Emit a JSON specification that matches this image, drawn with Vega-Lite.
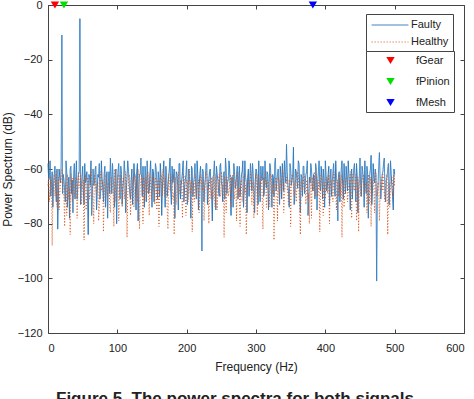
{
  "$schema": "https://vega.github.io/schema/vega-lite/v6.json",
  "width": 416,
  "height": 328,
  "autosize": "none",
  "padding": {"left": 48, "top": 5, "right": 10, "bottom": 66},
  "background": "white",
  "config": {
    "font": "Liberation Sans",
    "view": {"stroke": "#444", "strokeWidth": 1},
    "axis": {"grid": false, "domain": false, "tickColor": "#444", "tickSize": -4, "labelColor": "#222", "labelFontSize": 11, "titleFontSize": 12, "titleFontWeight": "normal", "titleColor": "#222", "labelFont": "Liberation Sans", "titleFont": "Liberation Sans"},
    "legend": {"labelFont": "Liberation Sans", "labelFontSize": 11, "labelColor": "#222"}
  },
  "title": {"text": "Figure 5. The power spectra for both signals", "orient": "bottom", "fontSize": 17, "fontWeight": "bold", "color": "#222", "offset": 19, "dx": -21, "font": "Liberation Sans"},
  "datasets": {
    "spec": [
{"f":0,"Faulty":-58,"Healthy":-66},{"f":1,"Faulty":-64,"Healthy":-63},{"f":2,"Faulty":-63,"Healthy":-72},{"f":3,"Faulty":-57,"Healthy":-68},{"f":4,"Faulty":-70,"Healthy":-63},
{"f":5,"Faulty":-66,"Healthy":-65},{"f":6,"Faulty":-61,"Healthy":-88},{"f":7,"Faulty":-74,"Healthy":-71},{"f":8,"Faulty":-66,"Healthy":-65},{"f":9,"Faulty":-62,"Healthy":-62},
{"f":10,"Faulty":-59,"Healthy":-70},{"f":11,"Faulty":-67,"Healthy":-66},{"f":12,"Faulty":-72,"Healthy":-61},{"f":13,"Faulty":-60,"Healthy":-74},{"f":14,"Faulty":-82,"Healthy":-67},
{"f":15,"Faulty":-70,"Healthy":-63},{"f":16,"Faulty":-60,"Healthy":-75},{"f":17,"Faulty":-63,"Healthy":-69},{"f":18,"Faulty":-65,"Healthy":-64},{"f":19,"Faulty":-58,"Healthy":-65},
{"f":20,"Faulty":-11,"Healthy":-60},{"f":21,"Faulty":-69,"Healthy":-62},{"f":22,"Faulty":-62,"Healthy":-69},{"f":23,"Faulty":-64,"Healthy":-70},{"f":24,"Faulty":-68,"Healthy":-81},
{"f":25,"Faulty":-72,"Healthy":-66},{"f":26,"Faulty":-57,"Healthy":-65},{"f":27,"Faulty":-61,"Healthy":-77},{"f":28,"Faulty":-74,"Healthy":-62},{"f":29,"Faulty":-66,"Healthy":-64},
{"f":30,"Faulty":-63,"Healthy":-71},{"f":31,"Faulty":-78,"Healthy":-67},{"f":32,"Faulty":-60,"Healthy":-84},{"f":33,"Faulty":-59,"Healthy":-62},{"f":34,"Faulty":-69,"Healthy":-66},
{"f":35,"Faulty":-64,"Healthy":-72},{"f":36,"Faulty":-76,"Healthy":-63},{"f":37,"Faulty":-62,"Healthy":-65},{"f":38,"Faulty":-58,"Healthy":-70},{"f":39,"Faulty":-71,"Healthy":-68},
{"f":40,"Faulty":-64,"Healthy":-64},{"f":41,"Faulty":-57,"Healthy":-63},{"f":42,"Faulty":-71,"Healthy":-78},{"f":43,"Faulty":-66,"Healthy":-69},{"f":44,"Faulty":-62,"Healthy":-61},
{"f":45,"Faulty":-61,"Healthy":-66},{"f":46,"Faulty":-5,"Healthy":-67},{"f":47,"Faulty":-73,"Healthy":-62},{"f":48,"Faulty":-67,"Healthy":-73},{"f":49,"Faulty":-63,"Healthy":-70},
{"f":50,"Faulty":-59,"Healthy":-65},{"f":51,"Faulty":-68,"Healthy":-64},{"f":52,"Faulty":-73,"Healthy":-86},{"f":53,"Faulty":-58,"Healthy":-67},{"f":54,"Faulty":-65,"Healthy":-62},
{"f":55,"Faulty":-64,"Healthy":-75},{"f":56,"Faulty":-61,"Healthy":-68},{"f":57,"Faulty":-70,"Healthy":-63},{"f":58,"Faulty":-84,"Healthy":-64},{"f":59,"Faulty":-62,"Healthy":-66},
{"f":60,"Faulty":-63,"Healthy":-71},{"f":61,"Faulty":-66,"Healthy":-69},{"f":62,"Faulty":-57,"Healthy":-60},{"f":63,"Faulty":-77,"Healthy":-64},{"f":64,"Faulty":-70,"Healthy":-66},
{"f":65,"Faulty":-60,"Healthy":-71},{"f":66,"Faulty":-66,"Healthy":-80},{"f":67,"Faulty":-65,"Healthy":-62},{"f":68,"Faulty":-60,"Healthy":-63},{"f":69,"Faulty":-59,"Healthy":-67},
{"f":70,"Faulty":-75,"Healthy":-69},{"f":71,"Faulty":-68,"Healthy":-65},{"f":72,"Faulty":-62,"Healthy":-65},{"f":73,"Faulty":-63,"Healthy":-79},{"f":74,"Faulty":-58,"Healthy":-74},
{"f":75,"Faulty":-71,"Healthy":-63},{"f":76,"Faulty":-68,"Healthy":-61},{"f":77,"Faulty":-57,"Healthy":-68},{"f":78,"Faulty":-64,"Healthy":-67},{"f":79,"Faulty":-66,"Healthy":-64},
{"f":80,"Faulty":-72,"Healthy":-83},{"f":81,"Faulty":-62,"Healthy":-70},{"f":82,"Faulty":-59,"Healthy":-64},{"f":83,"Faulty":-74,"Healthy":-62},{"f":84,"Faulty":-66,"Healthy":-62},
{"f":85,"Faulty":-61,"Healthy":-67},{"f":86,"Faulty":-78,"Healthy":-70},{"f":87,"Faulty":-65,"Healthy":-65},{"f":88,"Faulty":-61,"Healthy":-66},{"f":89,"Faulty":-69,"Healthy":-73},
{"f":90,"Faulty":-56,"Healthy":-76},{"f":91,"Faulty":-63,"Healthy":-63},{"f":92,"Faulty":-69,"Healthy":-63},{"f":93,"Faulty":-58,"Healthy":-66},{"f":94,"Faulty":-63,"Healthy":-68},
{"f":95,"Faulty":-67,"Healthy":-81},{"f":96,"Faulty":-74,"Healthy":-60},{"f":97,"Faulty":-62,"Healthy":-64},{"f":98,"Faulty":-60,"Healthy":-72},{"f":99,"Faulty":-80,"Healthy":-68},
{"f":100,"Faulty":-65,"Healthy":-65},{"f":101,"Faulty":-61,"Healthy":-62},{"f":102,"Faulty":-58,"Healthy":-79},{"f":103,"Faulty":-66,"Healthy":-70},{"f":104,"Faulty":-71,"Healthy":-62},
{"f":105,"Faulty":-59,"Healthy":-65},{"f":106,"Faulty":-62,"Healthy":-67},{"f":107,"Faulty":-73,"Healthy":-74},{"f":108,"Faulty":-67,"Healthy":-64},{"f":109,"Faulty":-64,"Healthy":-63},
{"f":110,"Faulty":-57,"Healthy":-71},{"f":111,"Faulty":-62,"Healthy":-67},{"f":112,"Faulty":-76,"Healthy":-61},{"f":113,"Faulty":-68,"Healthy":-64},{"f":114,"Faulty":-63,"Healthy":-85},
{"f":115,"Faulty":-57,"Healthy":-69},{"f":116,"Faulty":-60,"Healthy":-66},{"f":117,"Faulty":-65,"Healthy":-62},{"f":118,"Faulty":-69,"Healthy":-63},{"f":119,"Faulty":-71,"Healthy":-77},
{"f":120,"Faulty":-64,"Healthy":-69},{"f":121,"Faulty":-60,"Healthy":-66},{"f":122,"Faulty":-73,"Healthy":-65},{"f":123,"Faulty":-66,"Healthy":-63},{"f":124,"Faulty":-58,"Healthy":-74},
{"f":125,"Faulty":-63,"Healthy":-68},{"f":126,"Faulty":-66,"Healthy":-62},{"f":127,"Faulty":-75,"Healthy":-65},{"f":128,"Faulty":-61,"Healthy":-68},{"f":129,"Faulty":-58,"Healthy":-72},
{"f":130,"Faulty":-79,"Healthy":-60},{"f":131,"Faulty":-67,"Healthy":-64},{"f":132,"Faulty":-62,"Healthy":-82},{"f":133,"Faulty":-62,"Healthy":-67},{"f":134,"Faulty":-56,"Healthy":-64},
{"f":135,"Faulty":-64,"Healthy":-62},{"f":136,"Faulty":-70,"Healthy":-67},{"f":137,"Faulty":-59,"Healthy":-80},{"f":138,"Faulty":-65,"Healthy":-63},{"f":139,"Faulty":-74,"Healthy":-65},
{"f":140,"Faulty":-59,"Healthy":-72},{"f":141,"Faulty":-63,"Healthy":-63},{"f":142,"Faulty":-72,"Healthy":-66},{"f":143,"Faulty":-57,"Healthy":-69},{"f":144,"Faulty":-63,"Healthy":-61},
{"f":145,"Faulty":-69,"Healthy":-66},{"f":146,"Faulty":-68,"Healthy":-77},{"f":147,"Faulty":-62,"Healthy":-62},{"f":148,"Faulty":-57,"Healthy":-65},{"f":149,"Faulty":-66,"Healthy":-71},
{"f":150,"Faulty":-74,"Healthy":-69},{"f":151,"Faulty":-60,"Healthy":-65},{"f":152,"Faulty":-61,"Healthy":-62},{"f":153,"Faulty":-72,"Healthy":-68},{"f":154,"Faulty":-66,"Healthy":-73},
{"f":155,"Faulty":-58,"Healthy":-63},{"f":156,"Faulty":-60,"Healthy":-64},{"f":157,"Faulty":-65,"Healthy":-75},{"f":158,"Faulty":-71,"Healthy":-67},{"f":159,"Faulty":-61,"Healthy":-64},
{"f":160,"Faulty":-64,"Healthy":-81},{"f":161,"Faulty":-70,"Healthy":-67},{"f":162,"Faulty":-58,"Healthy":-63},{"f":163,"Faulty":-63,"Healthy":-62},{"f":164,"Faulty":-77,"Healthy":-66},
{"f":165,"Faulty":-67,"Healthy":-70},{"f":166,"Faulty":-62,"Healthy":-60},{"f":167,"Faulty":-57,"Healthy":-65},{"f":168,"Faulty":-67,"Healthy":-70},{"f":169,"Faulty":-74,"Healthy":-63},
{"f":170,"Faulty":-59,"Healthy":-65},{"f":171,"Faulty":-62,"Healthy":-68},{"f":172,"Faulty":-70,"Healthy":-75},{"f":173,"Faulty":-66,"Healthy":-82},{"f":174,"Faulty":-63,"Healthy":-62},
{"f":175,"Faulty":-60,"Healthy":-64},{"f":176,"Faulty":-56,"Healthy":-68},{"f":177,"Faulty":-68,"Healthy":-66},{"f":178,"Faulty":-73,"Healthy":-64},{"f":179,"Faulty":-59,"Healthy":-62},
{"f":180,"Faulty":-65,"Healthy":-71},{"f":181,"Faulty":-63,"Healthy":-69},{"f":182,"Faulty":-60,"Healthy":-84},{"f":183,"Faulty":-78,"Healthy":-65},{"f":184,"Faulty":-68,"Healthy":-63},
{"f":185,"Faulty":-61,"Healthy":-73},{"f":186,"Faulty":-62,"Healthy":-66},{"f":187,"Faulty":-66,"Healthy":-63},{"f":188,"Faulty":-75,"Healthy":-61},{"f":189,"Faulty":-58,"Healthy":-67},
{"f":190,"Faulty":-58,"Healthy":-69},{"f":191,"Faulty":-71,"Healthy":-64},{"f":192,"Faulty":-66,"Healthy":-65},{"f":193,"Faulty":-64,"Healthy":-70},{"f":194,"Faulty":-61,"Healthy":-78},
{"f":195,"Faulty":-57,"Healthy":-62},{"f":196,"Faulty":-72,"Healthy":-62},{"f":197,"Faulty":-67,"Healthy":-66},{"f":198,"Faulty":-64,"Healthy":-67},{"f":199,"Faulty":-62,"Healthy":-77},
{"f":200,"Faulty":-57,"Healthy":-64},{"f":201,"Faulty":-73,"Healthy":-65},{"f":202,"Faulty":-69,"Healthy":-72},{"f":203,"Faulty":-60,"Healthy":-63},{"f":204,"Faulty":-63,"Healthy":-60},
{"f":205,"Faulty":-66,"Healthy":-69},{"f":206,"Faulty":-78,"Healthy":-68},{"f":207,"Faulty":-59,"Healthy":-64},{"f":208,"Faulty":-60,"Healthy":-83},{"f":209,"Faulty":-70,"Healthy":-67},
{"f":210,"Faulty":-65,"Healthy":-65},{"f":211,"Faulty":-63,"Healthy":-72},{"f":212,"Faulty":-58,"Healthy":-63},{"f":213,"Faulty":-67,"Healthy":-62},{"f":214,"Faulty":-71,"Healthy":-70},
{"f":215,"Faulty":-57,"Healthy":-66},{"f":216,"Faulty":-62,"Healthy":-66},{"f":217,"Faulty":-75,"Healthy":-64},{"f":218,"Faulty":-67,"Healthy":-76},{"f":219,"Faulty":-62,"Healthy":-70},
{"f":220,"Faulty":-59,"Healthy":-62},{"f":221,"Faulty":-65,"Healthy":-63},{"f":222,"Faulty":-90,"Healthy":-67},{"f":223,"Faulty":-60,"Healthy":-68},{"f":224,"Faulty":-61,"Healthy":-64},
{"f":225,"Faulty":-72,"Healthy":-79},{"f":226,"Faulty":-66,"Healthy":-73},{"f":227,"Faulty":-63,"Healthy":-65},{"f":228,"Faulty":-58,"Healthy":-61},{"f":229,"Faulty":-58,"Healthy":-62},
{"f":230,"Faulty":-73,"Healthy":-68},{"f":231,"Faulty":-68,"Healthy":-67},{"f":232,"Faulty":-64,"Healthy":-80},{"f":233,"Faulty":-61,"Healthy":-64},{"f":234,"Faulty":-60,"Healthy":-65},
{"f":235,"Faulty":-66,"Healthy":-71},{"f":236,"Faulty":-70,"Healthy":-63},{"f":237,"Faulty":-79,"Healthy":-66},{"f":238,"Faulty":-63,"Healthy":-71},{"f":239,"Faulty":-62,"Healthy":-63},
{"f":240,"Faulty":-57,"Healthy":-66},{"f":241,"Faulty":-67,"Healthy":-74},{"f":242,"Faulty":-75,"Healthy":-62},{"f":243,"Faulty":-59,"Healthy":-65},{"f":244,"Faulty":-62,"Healthy":-75},
{"f":245,"Faulty":-64,"Healthy":-68},{"f":246,"Faulty":-68,"Healthy":-64},{"f":247,"Faulty":-70,"Healthy":-62},{"f":248,"Faulty":-59,"Healthy":-69},{"f":249,"Faulty":-58,"Healthy":-70},
{"f":250,"Faulty":-65,"Healthy":-61},{"f":251,"Faulty":-66,"Healthy":-64},{"f":252,"Faulty":-72,"Healthy":-67},{"f":253,"Faulty":-62,"Healthy":-66},{"f":254,"Faulty":-61,"Healthy":-85},
{"f":255,"Faulty":-71,"Healthy":-63},{"f":256,"Faulty":-56,"Healthy":-65},{"f":257,"Faulty":-60,"Healthy":-76},{"f":258,"Faulty":-69,"Healthy":-63},{"f":259,"Faulty":-65,"Healthy":-65},
{"f":260,"Faulty":-64,"Healthy":-70},{"f":261,"Faulty":-57,"Healthy":-68},{"f":262,"Faulty":-60,"Healthy":-66},{"f":263,"Faulty":-68,"Healthy":-62},{"f":264,"Faulty":-77,"Healthy":-74},
{"f":265,"Faulty":-63,"Healthy":-67},{"f":266,"Faulty":-63,"Healthy":-62},{"f":267,"Faulty":-74,"Healthy":-64},{"f":268,"Faulty":-58,"Healthy":-68},{"f":269,"Faulty":-61,"Healthy":-71},
{"f":270,"Faulty":-67,"Healthy":-64},{"f":271,"Faulty":-66,"Healthy":-66},{"f":272,"Faulty":-62,"Healthy":-79},{"f":273,"Faulty":-59,"Healthy":-63},{"f":274,"Faulty":-71,"Healthy":-61},
{"f":275,"Faulty":-64,"Healthy":-70},{"f":276,"Faulty":-59,"Healthy":-67},{"f":277,"Faulty":-70,"Healthy":-81},{"f":278,"Faulty":-66,"Healthy":-65},{"f":279,"Faulty":-62,"Healthy":-64},
{"f":280,"Faulty":-61,"Healthy":-72},{"f":281,"Faulty":-57,"Healthy":-67},{"f":282,"Faulty":-74,"Healthy":-63},{"f":283,"Faulty":-67,"Healthy":-62},{"f":284,"Faulty":-57,"Healthy":-69},
{"f":285,"Faulty":-63,"Healthy":-66},{"f":286,"Faulty":-65,"Healthy":-84},{"f":287,"Faulty":-76,"Healthy":-72},{"f":288,"Faulty":-63,"Healthy":-64},{"f":289,"Faulty":-60,"Healthy":-64},
{"f":290,"Faulty":-70,"Healthy":-66},{"f":291,"Faulty":-65,"Healthy":-68},{"f":292,"Faulty":-58,"Healthy":-61},{"f":293,"Faulty":-62,"Healthy":-63},{"f":294,"Faulty":-68,"Healthy":-73},
{"f":295,"Faulty":-58,"Healthy":-65},{"f":296,"Faulty":-62,"Healthy":-65},{"f":297,"Faulty":-69,"Healthy":-78},{"f":298,"Faulty":-76,"Healthy":-68},{"f":299,"Faulty":-64,"Healthy":-64},
{"f":300,"Faulty":-60,"Healthy":-62},{"f":301,"Faulty":-61,"Healthy":-67},{"f":302,"Faulty":-66,"Healthy":-77},{"f":303,"Faulty":-73,"Healthy":-62},{"f":304,"Faulty":-57,"Healthy":-64},
{"f":305,"Faulty":-66,"Healthy":-69},{"f":306,"Faulty":-72,"Healthy":-70},{"f":307,"Faulty":-59,"Healthy":-65},{"f":308,"Faulty":-63,"Healthy":-63},{"f":309,"Faulty":-64,"Healthy":-71},
{"f":310,"Faulty":-59,"Healthy":-82},{"f":311,"Faulty":-70,"Healthy":-63},{"f":312,"Faulty":-69,"Healthy":-66},{"f":313,"Faulty":-57,"Healthy":-66},{"f":314,"Faulty":-64,"Healthy":-61},
{"f":315,"Faulty":-67,"Healthy":-74},{"f":316,"Faulty":-61,"Healthy":-68},{"f":317,"Faulty":-62,"Healthy":-64},{"f":318,"Faulty":-75,"Healthy":-65},{"f":319,"Faulty":-65,"Healthy":-68},
{"f":320,"Faulty":-58,"Healthy":-74},{"f":321,"Faulty":-60,"Healthy":-62},{"f":322,"Faulty":-67,"Healthy":-62},{"f":323,"Faulty":-74,"Healthy":-67},{"f":324,"Faulty":-62,"Healthy":-69},
{"f":325,"Faulty":-63,"Healthy":-65},{"f":326,"Faulty":-70,"Healthy":-86},{"f":327,"Faulty":-58,"Healthy":-70},{"f":328,"Faulty":-56,"Healthy":-64},{"f":329,"Faulty":-68,"Healthy":-63},
{"f":330,"Faulty":-65,"Healthy":-67},{"f":331,"Faulty":-62,"Healthy":-79},{"f":332,"Faulty":-60,"Healthy":-63},{"f":333,"Faulty":-66,"Healthy":-66},{"f":334,"Faulty":-73,"Healthy":-71},
{"f":335,"Faulty":-59,"Healthy":-64},{"f":336,"Faulty":-63,"Healthy":-65},{"f":337,"Faulty":-71,"Healthy":-68},{"f":338,"Faulty":-58,"Healthy":-60},{"f":339,"Faulty":-63,"Healthy":-62},
{"f":340,"Faulty":-68,"Healthy":-76},{"f":341,"Faulty":-57,"Healthy":-70},{"f":342,"Faulty":-62,"Healthy":-66},{"f":343,"Faulty":-65,"Healthy":-65},{"f":344,"Faulty":-51,"Healthy":-63},
{"f":345,"Faulty":-61,"Healthy":-67},{"f":346,"Faulty":-66,"Healthy":-69},{"f":347,"Faulty":-69,"Healthy":-73},{"f":348,"Faulty":-74,"Healthy":-64},{"f":349,"Faulty":-58,"Healthy":-64},
{"f":350,"Faulty":-60,"Healthy":-81},{"f":351,"Faulty":-66,"Healthy":-66},{"f":352,"Faulty":-64,"Healthy":-62},{"f":353,"Faulty":-62,"Healthy":-62},{"f":354,"Faulty":-52,"Healthy":-67},
{"f":355,"Faulty":-73,"Healthy":-70},{"f":356,"Faulty":-70,"Healthy":-65},{"f":357,"Faulty":-60,"Healthy":-64},{"f":358,"Faulty":-61,"Healthy":-72},{"f":359,"Faulty":-64,"Healthy":-67},
{"f":360,"Faulty":-67,"Healthy":-61},{"f":361,"Faulty":-57,"Healthy":-63},{"f":362,"Faulty":-58,"Healthy":-68},{"f":363,"Faulty":-67,"Healthy":-75},{"f":364,"Faulty":-76,"Healthy":-84},
{"f":365,"Faulty":-62,"Healthy":-65},{"f":366,"Faulty":-63,"Healthy":-64},{"f":367,"Faulty":-70,"Healthy":-68},{"f":368,"Faulty":-59,"Healthy":-66},{"f":369,"Faulty":-59,"Healthy":-62},
{"f":370,"Faulty":-69,"Healthy":-62},{"f":371,"Faulty":-65,"Healthy":-66},{"f":372,"Faulty":-62,"Healthy":-73},{"f":373,"Faulty":-61,"Healthy":-64},{"f":374,"Faulty":-57,"Healthy":-65},
{"f":375,"Faulty":-77,"Healthy":-71},{"f":376,"Faulty":-72,"Healthy":-69},{"f":377,"Faulty":-63,"Healthy":-80},{"f":378,"Faulty":-65,"Healthy":-63},{"f":379,"Faulty":-58,"Healthy":-65},
{"f":380,"Faulty":-60,"Healthy":-78},{"f":381,"Faulty":-66,"Healthy":-63},{"f":382,"Faulty":-68,"Healthy":-66},{"f":383,"Faulty":-62,"Healthy":-68},{"f":384,"Faulty":-63,"Healthy":-61},
{"f":385,"Faulty":-71,"Healthy":-66},{"f":386,"Faulty":-58,"Healthy":-70},{"f":387,"Faulty":-60,"Healthy":-62},{"f":388,"Faulty":-75,"Healthy":-64},{"f":389,"Faulty":-65,"Healthy":-70},
{"f":390,"Faulty":-61,"Healthy":-67},{"f":391,"Faulty":-57,"Healthy":-64},{"f":392,"Faulty":-66,"Healthy":-83},{"f":393,"Faulty":-68,"Healthy":-67},{"f":394,"Faulty":-59,"Healthy":-62},
{"f":395,"Faulty":-63,"Healthy":-63},{"f":396,"Faulty":-71,"Healthy":-68},{"f":397,"Faulty":-60,"Healthy":-77},{"f":398,"Faulty":-64,"Healthy":-65},{"f":399,"Faulty":-74,"Healthy":-66},
{"f":400,"Faulty":-57,"Healthy":-71},{"f":401,"Faulty":-62,"Healthy":-64},{"f":402,"Faulty":-68,"Healthy":-63},{"f":403,"Faulty":-66,"Healthy":-69},{"f":404,"Faulty":-62,"Healthy":-66},
{"f":405,"Faulty":-59,"Healthy":-62},{"f":406,"Faulty":-73,"Healthy":-80},{"f":407,"Faulty":-64,"Healthy":-67},{"f":408,"Faulty":-60,"Healthy":-64},{"f":409,"Faulty":-70,"Healthy":-65},
{"f":410,"Faulty":-65,"Healthy":-69},{"f":411,"Faulty":-61,"Healthy":-72},{"f":412,"Faulty":-58,"Healthy":-61},{"f":413,"Faulty":-67,"Healthy":-63},{"f":414,"Faulty":-70,"Healthy":-67},
{"f":415,"Faulty":-57,"Healthy":-68},{"f":416,"Faulty":-63,"Healthy":-75},{"f":417,"Faulty":-65,"Healthy":-64},{"f":418,"Faulty":-79,"Healthy":-65},{"f":419,"Faulty":-62,"Healthy":-70},
{"f":420,"Faulty":-61,"Healthy":-62},{"f":421,"Faulty":-72,"Healthy":-66},{"f":422,"Faulty":-66,"Healthy":-70},{"f":423,"Faulty":-60,"Healthy":-62},{"f":424,"Faulty":-57,"Healthy":-85},
{"f":425,"Faulty":-66,"Healthy":-67},{"f":426,"Faulty":-71,"Healthy":-64},{"f":427,"Faulty":-58,"Healthy":-74},{"f":428,"Faulty":-64,"Healthy":-67},{"f":429,"Faulty":-69,"Healthy":-65},
{"f":430,"Faulty":-59,"Healthy":-63},{"f":431,"Faulty":-63,"Healthy":-63},{"f":432,"Faulty":-68,"Healthy":-72},{"f":433,"Faulty":-57,"Healthy":-68},{"f":434,"Faulty":-62,"Healthy":-66},
{"f":435,"Faulty":-67,"Healthy":-64},{"f":436,"Faulty":-75,"Healthy":-61},{"f":437,"Faulty":-62,"Healthy":-71},{"f":438,"Faulty":-60,"Healthy":-78},{"f":439,"Faulty":-71,"Healthy":-62},
{"f":440,"Faulty":-65,"Healthy":-65},{"f":441,"Faulty":-60,"Healthy":-67},{"f":442,"Faulty":-58,"Healthy":-68},{"f":443,"Faulty":-65,"Healthy":-65},{"f":444,"Faulty":-72,"Healthy":-62},
{"f":445,"Faulty":-58,"Healthy":-79},{"f":446,"Faulty":-63,"Healthy":-71},{"f":447,"Faulty":-76,"Healthy":-63},{"f":448,"Faulty":-67,"Healthy":-83},{"f":449,"Faulty":-63,"Healthy":-66},
{"f":450,"Faulty":-56,"Healthy":-64},{"f":451,"Faulty":-66,"Healthy":-70},{"f":452,"Faulty":-70,"Healthy":-66},{"f":453,"Faulty":-59,"Healthy":-64},{"f":454,"Faulty":-61,"Healthy":-63},
{"f":455,"Faulty":-64,"Healthy":-62},{"f":456,"Faulty":-74,"Healthy":-69},{"f":457,"Faulty":-57,"Healthy":-68},{"f":458,"Faulty":-64,"Healthy":-65},{"f":459,"Faulty":-69,"Healthy":-65},
{"f":460,"Faulty":-59,"Healthy":-76},{"f":461,"Faulty":-62,"Healthy":-67},{"f":462,"Faulty":-78,"Healthy":-62},{"f":463,"Faulty":-66,"Healthy":-73},{"f":464,"Faulty":-62,"Healthy":-68},
{"f":465,"Faulty":-60,"Healthy":-63},{"f":466,"Faulty":-55,"Healthy":-81},{"f":467,"Faulty":-73,"Healthy":-66},{"f":468,"Faulty":-68,"Healthy":-64},{"f":469,"Faulty":-58,"Healthy":-64},
{"f":470,"Faulty":-63,"Healthy":-67},{"f":471,"Faulty":-65,"Healthy":-76},{"f":472,"Faulty":-60,"Healthy":-61},{"f":473,"Faulty":-62,"Healthy":-62},{"f":474,"Faulty":-101,"Healthy":-70},
{"f":475,"Faulty":-70,"Healthy":-67},{"f":476,"Faulty":-66,"Healthy":-65},{"f":477,"Faulty":-59,"Healthy":-65},{"f":478,"Faulty":-54,"Healthy":-79},{"f":479,"Faulty":-64,"Healthy":-70},
{"f":480,"Faulty":-71,"Healthy":-63},{"f":481,"Faulty":-67,"Healthy":-64},{"f":482,"Faulty":-62,"Healthy":-68},{"f":483,"Faulty":-61,"Healthy":-62},{"f":484,"Faulty":-58,"Healthy":-66},
{"f":485,"Faulty":-56,"Healthy":-69},{"f":486,"Faulty":-69,"Healthy":-72},{"f":487,"Faulty":-72,"Healthy":-66},{"f":488,"Faulty":-64,"Healthy":-62},{"f":489,"Faulty":-63,"Healthy":-63},
{"f":490,"Faulty":-60,"Healthy":-84},{"f":491,"Faulty":-58,"Healthy":-68},{"f":492,"Faulty":-73,"Healthy":-65},{"f":493,"Faulty":-66,"Healthy":-74},{"f":494,"Faulty":-57,"Healthy":-67},
{"f":495,"Faulty":-62,"Healthy":-64},{"f":496,"Faulty":-66,"Healthy":-63},{"f":497,"Faulty":-70,"Healthy":-66},{"f":498,"Faulty":-75,"Healthy":-70},{"f":499,"Faulty":-60,"Healthy":-62},
{"f":500,"Faulty":-62,"Healthy":-66}
    ],
    "marks": [
      {"key": "fGear", "f": 10, "v": 0},
      {"key": "fPinion", "f": 23, "v": 0},
      {"key": "fMesh", "f": 382, "v": 0}
    ]
  },
  "layer": [
    {
      "data": {"name": "spec"},
      "transform": [{"fold": ["Faulty", "Healthy"], "as": ["key", "v"]}, {"filter": "datum.key === 'Faulty'"}],
      "mark": {"type": "line", "strokeWidth": 1},
      "encoding": {
        "x": {"field": "f", "type": "quantitative", "scale": {"domain": [0, 600], "nice": false}, "axis": {"values": [0,100,200,300,400,500,600], "title": "Frequency (Hz)", "labelPadding": 13, "titlePadding": 8}},
        "y": {"field": "v", "type": "quantitative", "scale": {"domain": [-120, 0], "nice": false}, "axis": {"values": [-120,-100,-80,-60,-40,-20,0], "title": "Power Spectrum (dB)", "labelPadding": 10, "titlePadding": 3}},
        "stroke": {"field": "key", "type": "nominal", "scale": {"domain": ["Faulty", "Healthy"], "range": ["#2978BE", "#D95319"]},
          "legend": {"title": null, "orient": "none", "legendX": 318, "legendY": 9, "strokeColor": "#444", "fillColor": "white", "padding": 4, "rowPadding": 5, "symbolSize": 150, "symbolStrokeWidth": 1, "symbolType": "M-3,0H3", "symbolOffset": 13, "labelOffset": 14}},
        "strokeDash": {"field": "key", "type": "nominal", "scale": {"domain": ["Faulty", "Healthy"], "range": [[1, 0], [1, 2]]},
          "legend": {"title": null, "orient": "none", "legendX": 318, "legendY": 9, "strokeColor": "#444", "fillColor": "white", "padding": 4, "rowPadding": 5, "symbolSize": 150, "symbolStrokeWidth": 1, "symbolType": "M-3,0H3", "symbolOffset": 13, "labelOffset": 14}}
      }
    },
    {
      "data": {"name": "spec"},
      "transform": [{"fold": ["Faulty", "Healthy"], "as": ["key", "v"]}, {"filter": "datum.key === 'Healthy'"}],
      "mark": {"type": "line", "strokeWidth": 1},
      "encoding": {
        "x": {"field": "f", "type": "quantitative", "axis": {"orient": "top", "values": [0,100,200,300,400,500,600], "labels": false, "title": null}},
        "y": {"field": "v", "type": "quantitative", "axis": {"orient": "right", "values": [-120,-100,-80,-60,-40,-20,0], "labels": false, "title": null}},
        "stroke": {"field": "key", "type": "nominal"},
        "strokeDash": {"field": "key", "type": "nominal"}
      }
    },
    {
      "data": {"name": "marks"},
      "mark": {"type": "point", "shape": "triangle-down", "filled": true, "opacity": 1, "size": 70, "clip": false},
      "encoding": {
        "x": {"field": "f", "type": "quantitative", "axis": null},
        "y": {"field": "v", "type": "quantitative", "axis": null},
        "fill": {"field": "key", "type": "nominal", "scale": {"domain": ["fGear", "fPinion", "fMesh"], "range": ["#FF0000", "#00E000", "#0000FF"]},
          "legend": {"title": null, "orient": "none", "legendX": 318, "legendY": 46, "strokeColor": "#444", "fillColor": "white", "padding": 4, "rowPadding": 9, "symbolSize": 70, "symbolType": "triangle-down", "symbolOffset": 15, "labelOffset": 20, "symbolStrokeWidth": 0}}
      }
    }
  ],
  "resolve": {"axis": {"x": "independent", "y": "independent"}}
}
